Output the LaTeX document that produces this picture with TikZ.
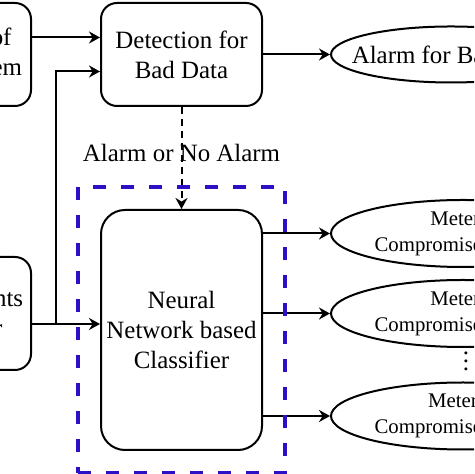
\documentclass[tikz,border=0pt]{standalone}
\usepackage{fontspec}
\setmainfont{Liberation Serif}
\usetikzlibrary{
  arrows.meta,
  positioning,
  fit,
  calc,
  shapes.geometric
}
\definecolor{FrameBlue}{RGB}{43,16,200}
\definecolor{LineBlack}{RGB}{0,0,0}
\newcommand{\ctrline}[1]{\makebox[0pt]{#1}}
\tikzset{
  sbox/.style={
    draw=LineBlack,
    rounded corners=8pt,
    line width=1pt,
    minimum width=80.5pt,
    minimum height=51.5pt,
    align=center,
    font=\fontsize{12.45}{15}\selectfont,
    inner sep=0pt
  },
  nnbox/.style={sbox, rounded corners=12pt, minimum height=120pt},
  alarmell/.style={
    draw=LineBlack,
    ellipse,
    line width=1pt,
    minimum width=120pt,
    minimum height=28pt,
    inner sep=0pt,
    font=\fontsize{12.45}{15}\selectfont
  },
  meterell/.style={alarmell, minimum width=132pt, minimum height=33.5pt, align=center, font=\fontsize{10.4}{13}\selectfont},
  arrow/.style={-{Stealth[length=5.5pt,width=6pt]}, line width=1pt, draw=LineBlack},
  dasharrow/.style={arrow, dash pattern=on 3.5pt off 2.5pt},
  groupbox/.style={draw=FrameBlue, line width=2pt, dash pattern=on 6.5pt off 7.5pt, inner sep=11pt}
}

\begin{document}
\begin{tikzpicture}[x=1pt, y=1pt]
  \fill[white] (0,0) rectangle (237,237);
  \useasboundingbox (0,0) rectangle (237,237);
  \clip (0,0) rectangle (237,237);

  % Bad data detection row
  \node[sbox] (det) at (90.75,209.75) {Detection for\\Bad Data};
  \node[sbox, left=34pt of det] (topo) {Topology of\\Power System};
  \node[alarmell, right=33.5pt of det] (alarm) {\ctrline{Alarm for Bad Data}};

  % Classifier and its outputs
  \node[nnbox, below=51pt of det] (nn) {Neural\\Network based\\Classifier};
  \node[sbox, minimum height=56.5pt, left=34pt of nn, yshift=8.25pt] (meas) {Measurements\\of a Meter};
  \node[meterell, right=33.5pt of nn, yshift=48.25pt] (m1) {\ctrline{Meter 1}\\\ctrline{Compromised or Not}};
  \node[meterell, right=33.5pt of nn, yshift=8.25pt] (m2) {\ctrline{Meter 2}\\\ctrline{Compromised or Not}};
  \node[meterell, right=33.5pt of nn, yshift=-43pt] (m3) {\ctrline{Meter N}\\\ctrline{Compromised or Not}};
  \node[inner sep=0pt, font=\fontsize{12.45}{15}\selectfont] (dots) at ($(m2.south)!0.5!(m3.north)+(1.5pt,4.5pt)$) {$\vdots$};

  \draw[arrow] ([yshift=8.5pt]topo.east) -- ([yshift=8.5pt]det.west);
  \draw[arrow] (det) -- (alarm);
  \draw[arrow] ([yshift=-5.25pt]meas.east) coordinate (mout) -- (mout -| nn.west);
  \coordinate (split) at ($(mout)!0.35!(mout -| nn.west)$);
  \draw[arrow] (split) |- ([yshift=-8.5pt]det.west);
  \draw[dasharrow] (det.south) -- node[pos=0.45, font=\fontsize{12.45}{15}\selectfont] (alarmlbl) {Alarm or No Alarm} (det.south |- nn.north);
  \foreach \m in {m1,m2,m3}
    \draw[arrow] (nn.east |- \m) -- (\m);

  \node[groupbox, fit=(nn)] (grp) {};
\end{tikzpicture}
\end{document}
